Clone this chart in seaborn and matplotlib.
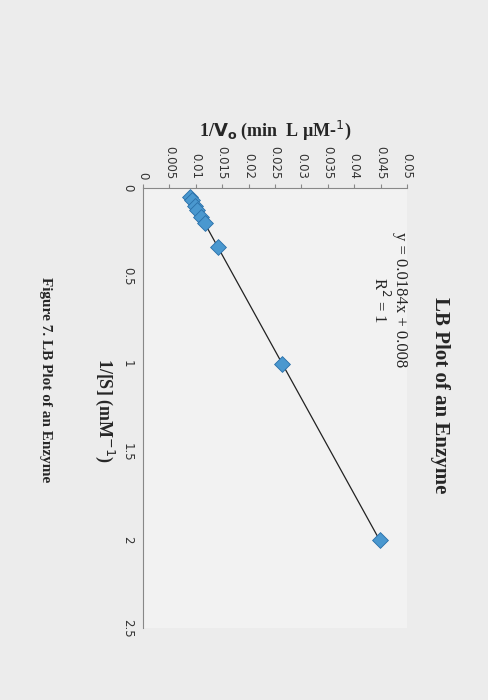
import matplotlib
matplotlib.use("Agg")
import matplotlib.pyplot as plt
import seaborn as sns
import numpy as np
import pandas as pd

inv_s = [0.05, 0.0667, 0.1, 0.125, 0.1667, 0.2, 0.3333, 1.0, 2.0]
inv_v = [0.00892, 0.00923, 0.00984, 0.0103, 0.01107, 0.01168, 0.01413, 0.0264, 0.0448]
slope, intercept = 0.0184, 0.008
x_ticks = [0, 0.5, 1, 1.5, 2, 2.5]
y_ticks = [0, 0.005, 0.01, 0.015, 0.02, 0.025, 0.03, 0.035, 0.04, 0.045, 0.05]

sns.set_style("white")
W, H = 489, 700
fig = plt.figure(figsize=(W/100, H/100), dpi=100, facecolor="#ececec")
ax = fig.add_axes([143/W, 1-628/H, (407-143)/W, (628-188)/H])
ax.set_facecolor("#f2f2f2")

df = pd.DataFrame({"s": inv_s, "v": inv_v})
line_s = np.array([inv_s[0], inv_s[-1]])
ax.plot(slope*line_s+intercept, line_s, color="#222222", lw=0.9, zorder=2)
sns.scatterplot(data=df, x="v", y="s", marker="D", s=65, color="#4a98cf",
                edgecolor="#2a6fa8", linewidth=0.6, ax=ax, zorder=3)

ax.set_xlim(0, 0.05)
ax.set_ylim(2.5, 0)
ax.set_xticks(y_ticks)
ax.set_xticklabels([f"{t:g}" for t in y_ticks], rotation=-90, fontsize=8.5, color="#333333")
ax.set_yticks(x_ticks)
ax.set_yticklabels([f"{t:g}" for t in x_ticks], rotation=-90, fontsize=8.5, color="#333333", va="center")
ax.xaxis.tick_top()
ax.tick_params(axis="both", length=3, color="#888888", direction="out")
for sp in ["right", "bottom"]:
    ax.spines[sp].set_visible(False)
for sp in ["top", "left"]:
    ax.spines[sp].set_color("#888888")
ax.set_xlabel(""); ax.set_ylabel("")

serif = "Liberation Serif"
fig.text(440/W, 1-395/H, "LB Plot of an Enzyme", rotation=-90, fontsize=15,
         fontweight="bold", family=serif, ha="center", va="center")
fig.text(400/W, 1-300/H, "y = 0.0184x + 0.008", rotation=-90, fontsize=12,
         family=serif, ha="center", va="center")
fig.text(380/W, 1-300/H, "R$^2$ = 1", rotation=-90, fontsize=12,
         family=serif, ha="center", va="center")
fig.text(275/W, 1-130/H, "1/$\\mathbf{V_{o}}$ (min  L µM-$^1$)", fontsize=13,
         fontweight="bold", family=serif, ha="center", va="center")
fig.text(105/W, 1-410/H, "1/[S] (mM$^{-1}$)", rotation=-90, fontsize=13,
         fontweight="bold", family=serif, ha="center", va="center")
fig.text(45/W, 1-380/H, "Figure 7. LB Plot of an Enzyme", rotation=-90, fontsize=11,
         fontweight="bold", family=serif, ha="center", va="center")

fig.savefig("out.png", dpi=100, facecolor=fig.get_facecolor())
